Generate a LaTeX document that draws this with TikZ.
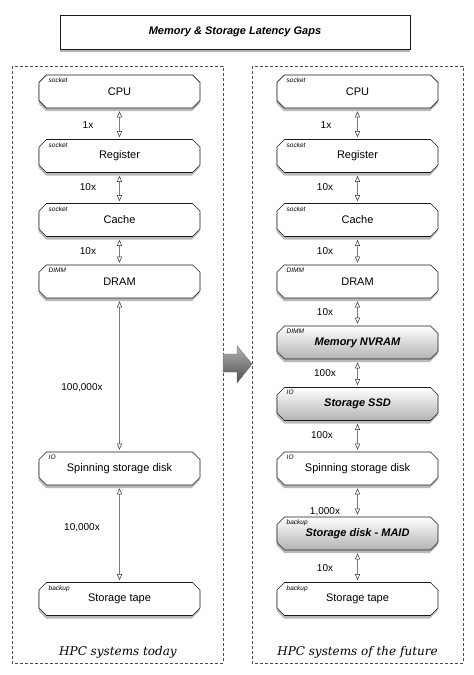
\documentclass[tikz,border=0pt]{standalone}
\usepackage{fontspec}
\setmainfont{Liberation Sans}
\newfontfamily\capfont{DejaVu Serif}
\usetikzlibrary{shapes.misc,shadows,arrows.meta}

\tikzset{
  tier/.style={chamfered rectangle, chamfered rectangle xsep=4pt, draw=black!90, fill=white,
    line width=0.6pt, minimum width=161pt, minimum height=33pt, inner sep=0pt,
    drop shadow={shadow xshift=-0.5pt, shadow yshift=-3pt, opacity=0.55},
    font=\fontsize{11}{13}\selectfont},
  newtier/.style={tier, top color=white, bottom color=black!30,
    font=\fontsize{11}{13}\selectfont\bfseries\itshape},
  tag/.style={anchor=north west, inner sep=0pt, font=\fontsize{6.5}{7}\selectfont\itshape},
  gap/.style={inner sep=0pt, font=\fontsize{10}{12}\selectfont},
  link/.style={{Triangle[open,width=5pt,length=6pt]}-{Triangle[open,width=5pt,length=6pt]},
    draw=black!80, line width=0.5pt, shorten <=3pt, shorten >=2pt},
  frame/.style={draw=black!70, dash pattern=on 3pt off 2pt, line width=0.6pt},
  headline/.style={draw=black!90, fill=white, line width=0.6pt, minimum width=350pt, minimum height=34pt,
    drop shadow={shadow xshift=0pt, shadow yshift=-3pt, opacity=0.6},
    font=\fontsize{11}{13}\selectfont\bfseries\itshape},
  caption/.style={font=\fontsize{12}{14}\selectfont\capfont\itshape}
}

\begin{document}
\begin{tikzpicture}[x=1pt, y=-1pt]
	\useasboundingbox (0,0) rectangle (474,675);

	\node[headline] (title) at (235,32) {Memory \& Storage Latency Gaps};

	\draw[frame] (12,66) rectangle (223,663);
	\draw[frame] (252,66) rectangle (463,663);

	% today
	\node[tier] (cpuA) at (119.5,91.5) {CPU};
	\node[tier] (regA) at (119.5,156) {Register};
	\node[tier] (cacheA) at (119.5,220) {Cache};
	\node[tier] (dramA) at (119.5,281.5) {DRAM};
	\node[tier] (diskA) at (119.5,468.5) {Spinning storage disk};
	\node[tier] (tapeA) at (119.5,599) {Storage tape};

	\node[tag] (cpuAt) at ([xshift=-71pt,yshift=-3pt]cpuA.north) {socket};
	\node[tag] (regAt) at ([xshift=-71pt,yshift=-3pt]regA.north) {socket};
	\node[tag] (cacheAt) at ([xshift=-71pt,yshift=-3pt]cacheA.north) {socket};
	\node[tag] (dramAt) at ([xshift=-71pt,yshift=-3pt]dramA.north) {DIMM};
	\node[tag] (diskAt) at ([xshift=-71pt,yshift=-3pt]diskA.north) {IO};
	\node[tag] (tapeAt) at ([xshift=-71pt,yshift=-3pt]tapeA.north) {backup};

	\draw[link] (cpuA) -- (regA);
	\draw[link] (regA) -- (cacheA);
	\draw[link] (cacheA) -- (dramA);
	\draw[link] (dramA) -- (diskA);
	\draw[link] (diskA) -- (tapeA);

	\node[gap] (gapA1) at (88,125) {1x};
	\node[gap] (gapA2) at (88,187) {10x};
	\node[gap] (gapA3) at (88,251) {10x};
	\node[gap] (gapA4) at (82,388) {100,000x};
	\node[gap] (gapA5) at (82,528) {10,000x};

	\node[caption] (capA) at (118,652) {HPC systems today};

	% shift
	\shade[top color=black!30, bottom color=black!70, draw=black!60]
		(223,354) -- (237,354) -- (237,346) -- (252,364) -- (237,383) -- (237,372) -- (223,372) -- cycle;

	% future
	\node[tier] (cpuB) at (357.5,91.5) {CPU};
	\node[tier] (regB) at (357.5,156) {Register};
	\node[tier] (cacheB) at (357.5,220) {Cache};
	\node[tier] (dramB) at (357.5,281.5) {DRAM};
	\node[newtier] (nvramB) at (357.5,342.5) {Memory NVRAM};
	\node[newtier] (ssdB) at (357.5,404) {Storage SSD};
	\node[tier] (diskB) at (357.5,468.5) {Spinning storage disk};
	\node[newtier] (maidB) at (357.5,533.5) {Storage disk - MAID};
	\node[tier] (tapeB) at (357.5,599) {Storage tape};

	\node[tag] (cpuBt) at ([xshift=-71pt,yshift=-3pt]cpuB.north) {socket};
	\node[tag] (regBt) at ([xshift=-71pt,yshift=-3pt]regB.north) {socket};
	\node[tag] (cacheBt) at ([xshift=-71pt,yshift=-3pt]cacheB.north) {socket};
	\node[tag] (dramBt) at ([xshift=-71pt,yshift=-3pt]dramB.north) {DIMM};
	\node[tag] (nvramBt) at ([xshift=-71pt,yshift=-3pt]nvramB.north) {DIMM};
	\node[tag] (ssdBt) at ([xshift=-71pt,yshift=-3pt]ssdB.north) {IO};
	\node[tag] (diskBt) at ([xshift=-71pt,yshift=-3pt]diskB.north) {IO};
	\node[tag] (maidBt) at ([xshift=-71pt,yshift=-3pt]maidB.north) {backup};
	\node[tag] (tapeBt) at ([xshift=-71pt,yshift=-3pt]tapeB.north) {backup};

	\draw[link] (cpuB) -- (regB);
	\draw[link] (regB) -- (cacheB);
	\draw[link] (cacheB) -- (dramB);
	\draw[link] (dramB) -- (nvramB);
	\draw[link] (nvramB) -- (ssdB);
	\draw[link] (ssdB) -- (diskB);
	\draw[link] (diskB) -- (maidB);
	\draw[link] (maidB) -- (tapeB);

	\node[gap] (gapB1) at (326,125) {1x};
	\node[gap] (gapB2) at (325,187) {10x};
	\node[gap] (gapB3) at (325,251) {10x};
	\node[gap] (gapB4) at (325,312) {10x};
	\node[gap] (gapB5) at (325,373) {100x};
	\node[gap] (gapB6) at (322,435) {100x};
	\node[gap] (gapB7) at (325,512) {1,000x};
	\node[gap] (gapB8) at (325,568) {10x};

	\node[caption] (capB) at (357.5,652) {HPC systems of the future};
\end{tikzpicture}
\end{document}
